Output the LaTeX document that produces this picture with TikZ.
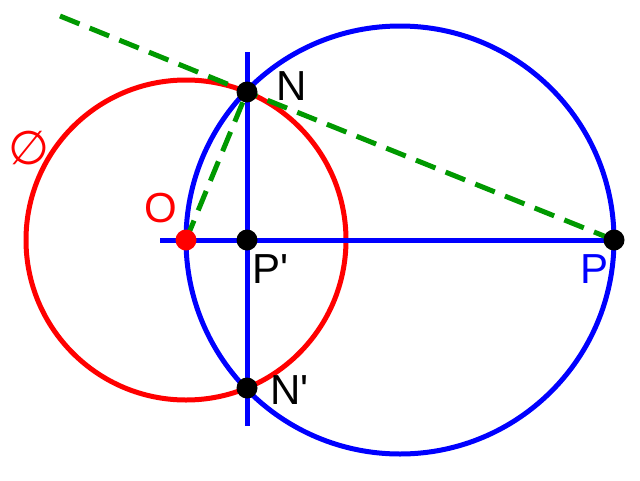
\documentclass[tikz,border=0pt]{standalone}
\usepackage{fontspec}
\setmainfont{Liberation Sans}
\newfontfamily\simboli{DejaVu Sans}
\definecolor{verde}{RGB}{0,153,0}
\begin{document}
\begin{tikzpicture}[
        x=1pt, y=-1pt,
        % Stili: linee spesse, punti pieni ed etichette sans-serif
        linea/.style={line width=5pt},
        tratto/.style={draw=verde, line width=5pt, dash pattern=on 21pt off 11pt},
        punto/.style={circle, fill=black, minimum size=21pt, inner sep=0pt},
        etichetta/.style={anchor=base west, inner sep=0pt, font=\fontsize{42}{42}\selectfont}
    ]
    \useasboundingbox (0,0) rectangle (640,480);

    % Punti della costruzione
    \coordinate (O) at (186,240);
    \coordinate (C) at (400,240);
    \coordinate (P) at (614,240);
    \coordinate (Pp) at (247,240);
    \coordinate (N) at (247,92);
    \coordinate (Np) at (247,388);
    \coordinate (sx) at (160,240);
    \coordinate (su) at (247,52);
    \coordinate (giu) at (247,426);
    \coordinate (fine) at (60,16);

    % Cerchio di inversione e cerchio per P
    \draw[linea, red] (O) circle (160);
    \draw[linea, blue] (C) circle (214);
    \draw[linea, blue] (sx) -- (P);
    \draw[linea, blue] (su) -- (giu);

    % Tangente e raggio tratteggiati
    \draw[tratto] (fine) -- (N) -- (P);
    \draw[tratto] (O) -- (N);

    \node[punto] (pN) at (N) {};
    \node[punto] (pNp) at (Np) {};
    \node[punto] (pPp) at (Pp) {};
    \node[punto] (pP) at (P) {};
    \node[punto, fill=red] (pO) at (O) {};

    % Etichette
    \node[etichetta] (lN) at (276,100) {N};
    \node[etichetta] (lNp) at (270,404) {N\textquotesingle};
    \node[etichetta] (lPp) at (252,283) {P\textquotesingle};
    \node[etichetta, text=blue] (lP) at (580,283) {P};
    \node[etichetta, text=red] (lO) at (144,222) {O};
    \node[etichetta, text=red, font=\simboli\fontsize{47}{47}\selectfont] (lvuoto) at (8,164) {∅};
\end{tikzpicture}
\end{document}
